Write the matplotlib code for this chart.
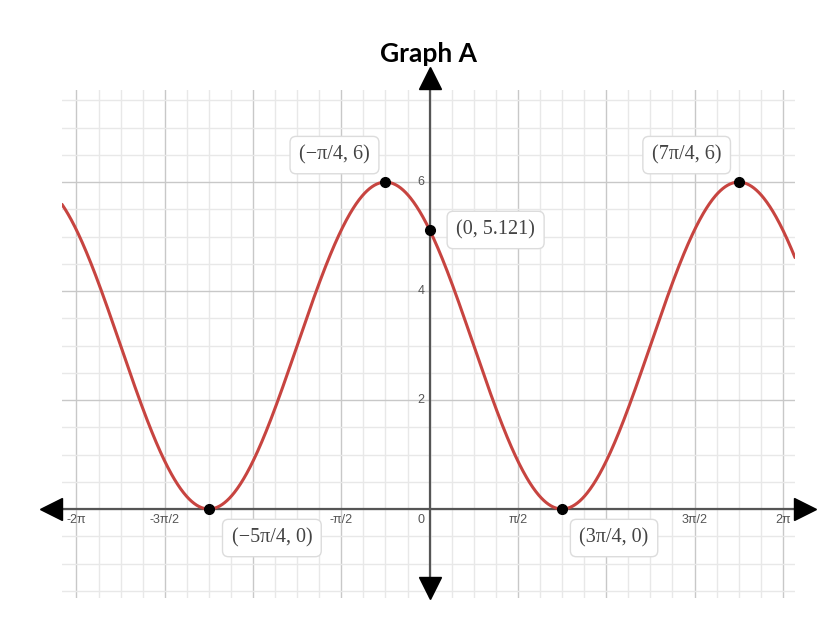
import numpy as np
import matplotlib
matplotlib.use("Agg")
import matplotlib.pyplot as plt
from matplotlib.transforms import blended_transform_factory

# ---- data ----
amplitude = 3.0
phase = np.pi / 4
vertical_shift = 3.0

point_x = [-np.pi / 4, 0.0, 7 * np.pi / 4, -5 * np.pi / 4, 3 * np.pi / 4]
point_y = [6.0, 5.121, 6.0, 0.0, 0.0]
point_labels = ["(−π/4, 6)", "(0, 5.121)", "(7π/4, 6)", "(−5π/4, 0)", "(3π/4, 0)"]
label_offsets = [(-51, 27), (66, 0), (-52, 27), (63, -29), (52, -29)]  # pixels

# visible x tick labels (the -π and π labels are hidden behind the point labels)
xtick_vals = [-2 * np.pi, -3 * np.pi / 2, -np.pi / 2, 0.0, np.pi / 2, 3 * np.pi / 2, 2 * np.pi]
xtick_labels = ["-2π", "-3π/2", "-π/2", "0", "π/2", "3π/2", "2π"]
ytick_vals = [2, 4, 6]
ytick_labels = ["2", "4", "6"]

title = "Graph A"

# ---- figure ----
W, H = 828, 641
fig = plt.figure(figsize=(W / 100, H / 100), dpi=100)
ax = fig.add_axes([62 / W, (H - 598) / H, 733 / W, 508 / H])
ax.set_xlim(-6.54, 6.50)
ax.set_ylim(-1.633, 7.69)
for s in ax.spines.values():
    s.set_visible(False)
ax.set_xticks([])
ax.set_yticks([])

# grid
xmin, xmax = ax.get_xlim()
ymin, ymax = ax.get_ylim()
minor_x = np.arange(-20, 21) * np.pi / 8
minor_y = np.arange(-4, 17) * 0.5
for v in minor_x:
    if xmin <= v <= xmax:
        major = abs((v / (np.pi / 2)) - round(v / (np.pi / 2))) < 1e-9
        ax.axvline(v, color="#c8c8c8" if major else "#e8e8e8", lw=1.0, zorder=0)
for v in minor_y:
    if ymin <= v <= ymax:
        major = abs(v / 2 - round(v / 2)) < 1e-9
        ax.axhline(v, color="#c8c8c8" if major else "#e8e8e8", lw=1.0, zorder=0)

# axes lines
ax.axhline(0, color="#555555", lw=1.6, zorder=1)
ax.axvline(0, color="#555555", lw=1.6, zorder=1)

# arrows
tx = blended_transform_factory(ax.transAxes, ax.transData)
ty = blended_transform_factory(ax.transData, ax.transAxes)
ax.plot([-0.015], [0], marker="<", ms=16, color="black", transform=tx, clip_on=False, zorder=6)
ax.plot([1.0136], [0], marker=">", ms=16, color="black", transform=tx, clip_on=False, zorder=6)
ax.plot([0], [1.0236], marker="^", ms=16, color="black", transform=ty, clip_on=False, zorder=6)
ax.plot([0], [0.0197], marker="v", ms=16, color="black", transform=ty, clip_on=False, zorder=6)

# tick labels
tick_font = dict(family="Liberation Sans", size=9, color="#555555")
for v, lab in zip(xtick_vals, xtick_labels):
    off = (-9, -5) if lab == "0" else (0, -5)
    ax.annotate(lab, xy=(v, 0), xytext=off, textcoords="offset pixels",
                ha="center", va="top", zorder=2, **tick_font)
for v, lab in zip(ytick_vals, ytick_labels):
    ax.annotate(lab, xy=(0, v), xytext=(-5, 0), textcoords="offset pixels",
                ha="right", va="center", zorder=2, **tick_font)

# curve
x = np.linspace(xmin, xmax, 1200)
y = amplitude * np.cos(x + phase) + vertical_shift
ax.plot(x, y, color="#c74440", lw=2.2, zorder=3, solid_capstyle="round")

# points
ax.plot(point_x, point_y, "o", color="black", ms=7, zorder=4)

# labels
for px, py, lab, off in zip(point_x, point_y, point_labels, label_offsets):
    ax.annotate(lab, xy=(px, py), xytext=off, textcoords="offset pixels",
                ha="center", va="center", family="Liberation Serif", size=14.5,
                color="#444444", zorder=5,
                bbox=dict(boxstyle="round,pad=0.45,rounding_size=0.3",
                          fc="white", ec="#dcdcdc", lw=1.0))

fig.text(429 / W, 1 - 54 / H, title, ha="center", va="center",
         family="Lato", weight="bold", size=19, color="black")

fig.savefig("out.png", dpi=100, facecolor="white")
